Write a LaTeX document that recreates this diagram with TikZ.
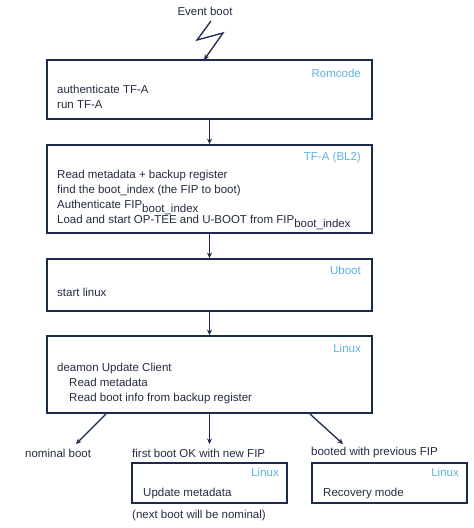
\documentclass[tikz,border=0pt]{standalone}
\usepackage{fontspec}
\setmainfont{Liberation Sans}
\usetikzlibrary{arrows.meta,calc}
\definecolor{navy}{HTML}{1B2A4E}
\definecolor{txt}{HTML}{252C42}
\definecolor{lbl}{HTML}{5AB4E0}
\newcommand{\sbx}[1]{\raisebox{-4pt}{#1}}
\tikzset{
  box/.style={draw=navy, line width=1.8pt, inner sep=0pt, fill=white},
  lbltext/.style={text=lbl, anchor=east, inner sep=0pt, font=\fontsize{11.5pt}{14pt}\selectfont},
  body/.style={text=txt, anchor=north west, inner sep=0pt, align=left, font=\fontsize{11.5pt}{15pt}\selectfont},
  plain/.style={text=txt, inner sep=0pt, font=\fontsize{11.5pt}{14pt}\selectfont},
  arr/.style={draw=navy, line width=1.3pt, -{Stealth[length=5.5pt,width=5pt]}}
}
\begin{document}
\begin{tikzpicture}[x=1pt,y=-1pt]
\useasboundingbox[fill=white] (0,0) rectangle (474,528);
% top
\node[plain] (ev) at (205,11) {Event boot};
\coordinate (bolt) at (211,21);
\coordinate (boltend) at (204,60);
% boxes
\node[box, minimum width=325pt, minimum height=59pt] (rom) at (209.5,89.5) {};
\node[box, minimum width=325pt, minimum height=88pt] (tfa) at (209.5,189) {};
\node[box, minimum width=325pt, minimum height=52pt] (ub) at (209.5,285) {};
\node[box, minimum width=325pt, minimum height=77pt] (lin) at (209.5,374.5) {};
\node[box, minimum width=155pt, minimum height=40pt] (upd) at (209.5,483) {};
\node[box, minimum width=155pt, minimum height=40pt] (rec) at (389.5,483) {};
% labels
\node[lbltext] (l1) at (361,73) {Romcode};
\node[lbltext] (l2) at (361,158) {TF-A (BL2)};
\node[lbltext] (l3) at (361,270) {Uboot};
\node[lbltext] (l4) at (361,348) {Linux};
\node[lbltext] (l5) at (279,472) {Linux};
\node[lbltext] (l6) at (459,472) {Linux};
% bodies
\node[body] (t1) at (57,85) {authenticate TF-A\\run TF-A};
\node[body] (t2) at (57,170) {Read metadata + backup register\\find the boot\_index (the FIP to boot)\\Authenticate FIP\sbx{boot\_index}\\Load and start OP-TEE and U-BOOT from FIP\sbx{boot\_index}};
\node[body] (t3) at (57,288) {start linux};
\node[body] (t4) at (57,363) {deamon Update Client\\\hspace*{12pt}Read metadata\\\hspace*{12pt}Read boot info from backup register};
\node[plain, anchor=west] (t5) at (143,494) {Update metadata};
\node[plain, anchor=west] (t6) at (323,494) {Recovery mode};
% outcome labels
\node[plain, anchor=west] (o1) at (25,453) {nominal boot};
\node[plain, anchor=west] (o2) at (132,453) {first boot OK with new FIP};
\node[plain, anchor=west] (o3) at (311,453) {booted with previous FIP};
\node[plain, anchor=west] (o4) at (132,516) {(next boot will be nominal)};
% connectors
\draw[arr] (bolt) -- (197,40) -- (223,33) -- (boltend);
\draw[arr] (rom.south) -- (tfa.north);
\draw[arr] (tfa.south) -- (ub.north);
\draw[arr] (ub.south) -- (lin.north);
\coordinate (a1s) at (106,414);
\coordinate (a1e) at (76,444);
\coordinate (a3s) at (310,414);
\coordinate (a3e) at (343,444);
\coordinate (a2e) at (209.5,444);
\draw[arr] (a1s) -- (a1e);
\draw[arr] (lin.south) -- (a2e);
\draw[arr] (a3s) -- (a3e);
\end{tikzpicture}
\end{document}
